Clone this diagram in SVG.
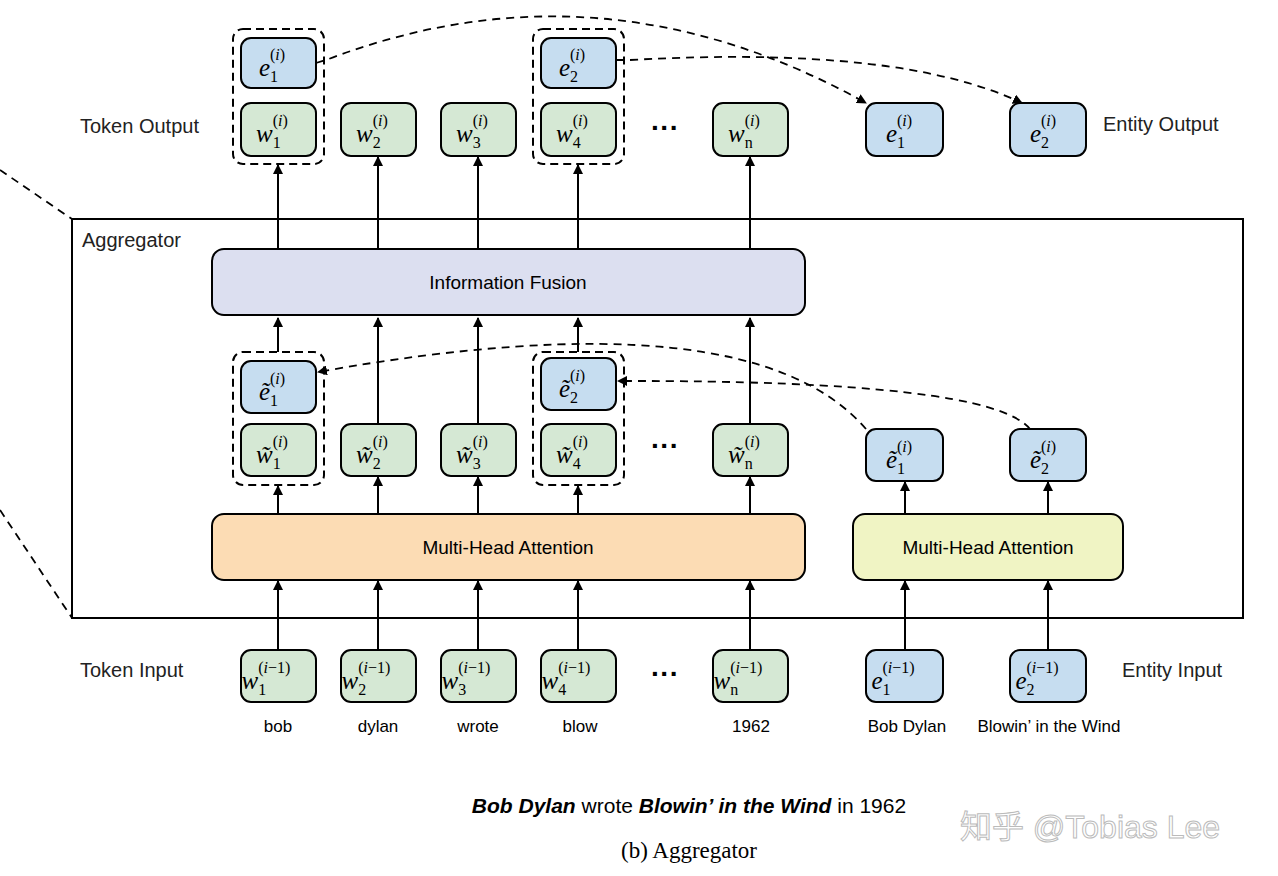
<svg xmlns="http://www.w3.org/2000/svg" width="1278" height="876" viewBox="0 0 1278 876">
<defs>
<marker id="ah" markerWidth="10" markerHeight="10" refX="9" refY="5" orient="auto" markerUnits="userSpaceOnUse"><path d="M0,0 L10,5 L0,10 z" fill="#000"/></marker>
<style>
.w{fill:#d5e8d4;stroke:#000;stroke-width:2}
.e{fill:#c6ddf0;stroke:#000;stroke-width:2}
.dbox{fill:none;stroke:#000;stroke-width:2;stroke-dasharray:8,5}
.ar{stroke:#000;stroke-width:2;fill:none;marker-end:url(#ah)}
.dl{stroke:#000;stroke-width:1.8;fill:none;stroke-dasharray:8,6}
.m{font-family:"Liberation Serif",serif;font-size:25px;font-style:italic;text-anchor:middle}
.s{font-style:normal;font-size:16px}
.lab{font-family:"Liberation Sans",Arial,sans-serif;font-size:20px;fill:#222}
.sm{font-family:"Liberation Sans",Arial,sans-serif;font-size:17px;text-anchor:middle}
.dots{font-family:"Liberation Sans",sans-serif;font-size:28px;font-weight:bold;text-anchor:middle}
</style>
</defs>
<rect width="1278" height="876" fill="#fff"/>
<g id="aggregator"><rect x="72" y="219" width="1171" height="399" fill="none" stroke="#000" stroke-width="2"/><text x="82" y="247" class="lab">Aggregator</text></g>
<g id="connectors">
<path class="dl" d="M0,170 L72,219"/><path class="dl" d="M0,510 L72,618"/>
<path class="ar" d="M278,249 V165"/><path class="ar" d="M378,249 V157"/><path class="ar" d="M478,249 V157"/><path class="ar" d="M578,249 V165"/><path class="ar" d="M750,249 V157"/>
<path class="ar" d="M278,352 V318"/><path class="ar" d="M378,424 V318"/><path class="ar" d="M478,424 V318"/><path class="ar" d="M578,352 V318"/><path class="ar" d="M750,424 V318"/>
<path class="ar" d="M278,514 V486"/><path class="ar" d="M378,514 V477"/><path class="ar" d="M478,514 V477"/><path class="ar" d="M578,514 V486"/><path class="ar" d="M750,514 V477"/>
<path class="ar" d="M905,514 V482"/><path class="ar" d="M1048,514 V482"/>
<path class="ar" d="M278,650 V581"/><path class="ar" d="M378,650 V581"/><path class="ar" d="M478,650 V581"/><path class="ar" d="M578,650 V581"/><path class="ar" d="M750,650 V581"/><path class="ar" d="M905,650 V581"/><path class="ar" d="M1048,650 V581"/>
<path class="dl" d="M316,63 L326,60 Q600,-45 866,103" marker-end="url(#ah)"/>
<path class="dl" d="M616,60 L630,60 Q900,45 1022,103" marker-end="url(#ah)"/>
<path class="dl" d="M866,429 Q750,295 318,372" marker-end="url(#ah)"/>
<path class="dl" d="M1030,429 Q990,380 618,381" marker-end="url(#ah)"/>
</g>
<g id="fusion"><rect x="212" y="249" width="593" height="66" rx="12" fill="#dcdff0" stroke="#000" stroke-width="2"/><text x="508" y="289" class="sm" style="font-size:19px">Information Fusion</text></g>
<g id="mha1"><rect x="212" y="514" width="593" height="66" rx="12" fill="#fcdcb4" stroke="#000" stroke-width="2"/><text x="508" y="554" class="sm" style="font-size:19px">Multi-Head Attention</text></g>
<g id="mha2"><rect x="853" y="514" width="270" height="66" rx="12" fill="#f0f4c4" stroke="#000" stroke-width="2"/><text x="988" y="554" class="sm" style="font-size:19px">Multi-Head Attention</text></g>
<text x="80" y="133" class="lab">Token Output</text>
<text x="1103" y="131" class="lab">Entity Output</text>
<text x="80" y="677" class="lab">Token Input</text>
<text x="1122" y="677" class="lab">Entity Input</text>
<g id="out-dash"><rect class="dbox" x="233" y="29" width="91" height="135" rx="10"/><rect class="dbox" x="533" y="29" width="91" height="135" rx="10"/></g>
<g id="e1out"><rect class="e" x="241" y="38" width="75" height="50" rx="10"/><text class="m" x="272" y="76">e<tspan class="s" dy="6">1</tspan><tspan class="s" dy="-22" dx="-8">(<tspan font-style="italic">i</tspan>)</tspan></text></g>
<g id="e2out"><rect class="e" x="541" y="38" width="75" height="50" rx="10"/><text class="m" x="572" y="76">e<tspan class="s" dy="6">2</tspan><tspan class="s" dy="-22" dx="-8">(<tspan font-style="italic">i</tspan>)</tspan></text></g>
<g id="w1out"><rect class="w" x="241" y="103" width="75" height="53" rx="10"/><text class="m" x="272" y="142">w<tspan class="s" dy="6">1</tspan><tspan class="s" dy="-22" dx="-8">(<tspan font-style="italic">i</tspan>)</tspan></text></g>
<g id="w2out"><rect class="w" x="341" y="103" width="75" height="53" rx="10"/><text class="m" x="372" y="142">w<tspan class="s" dy="6">2</tspan><tspan class="s" dy="-22" dx="-8">(<tspan font-style="italic">i</tspan>)</tspan></text></g>
<g id="w3out"><rect class="w" x="441" y="103" width="75" height="53" rx="10"/><text class="m" x="472" y="142">w<tspan class="s" dy="6">3</tspan><tspan class="s" dy="-22" dx="-8">(<tspan font-style="italic">i</tspan>)</tspan></text></g>
<g id="w4out"><rect class="w" x="541" y="103" width="75" height="53" rx="10"/><text class="m" x="572" y="142">w<tspan class="s" dy="6">4</tspan><tspan class="s" dy="-22" dx="-8">(<tspan font-style="italic">i</tspan>)</tspan></text></g>
<text class="dots" x="665" y="137">···</text>
<g id="wnout"><rect class="w" x="713" y="103" width="75" height="53" rx="10"/><text class="m" x="744" y="142">w<tspan class="s" dy="6" font-style="italic">n</tspan><tspan class="s" dy="-22" dx="-8">(<tspan font-style="italic">i</tspan>)</tspan></text></g>
<g id="e1o"><rect class="e" x="866" y="103" width="77" height="53" rx="10"/><text class="m" x="899" y="142">e<tspan class="s" dy="6">1</tspan><tspan class="s" dy="-22" dx="-8">(<tspan font-style="italic">i</tspan>)</tspan></text></g>
<g id="e2o"><rect class="e" x="1010" y="103" width="76" height="53" rx="10"/><text class="m" x="1043" y="142">e<tspan class="s" dy="6">2</tspan><tspan class="s" dy="-22" dx="-8">(<tspan font-style="italic">i</tspan>)</tspan></text></g>
<g id="mid-dash"><rect class="dbox" x="233" y="352" width="91" height="133" rx="10"/><rect class="dbox" x="533" y="352" width="91" height="133" rx="10"/></g>
<g id="et1"><rect class="e" x="241" y="361" width="75" height="52" rx="10"/><text class="m" x="272" y="400">ẽ<tspan class="s" dy="6">1</tspan><tspan class="s" dy="-22" dx="-8">(<tspan font-style="italic">i</tspan>)</tspan></text></g>
<g id="et2"><rect class="e" x="541" y="358" width="75" height="52" rx="10"/><text class="m" x="572" y="397">ẽ<tspan class="s" dy="6">2</tspan><tspan class="s" dy="-22" dx="-8">(<tspan font-style="italic">i</tspan>)</tspan></text></g>
<g id="wt1"><rect class="w" x="241" y="424" width="75" height="52" rx="10"/><text class="m" x="272" y="463">w̃<tspan class="s" dy="6">1</tspan><tspan class="s" dy="-22" dx="-8">(<tspan font-style="italic">i</tspan>)</tspan></text></g>
<g id="wt2"><rect class="w" x="341" y="424" width="75" height="52" rx="10"/><text class="m" x="372" y="463">w̃<tspan class="s" dy="6">2</tspan><tspan class="s" dy="-22" dx="-8">(<tspan font-style="italic">i</tspan>)</tspan></text></g>
<g id="wt3"><rect class="w" x="441" y="424" width="75" height="52" rx="10"/><text class="m" x="472" y="463">w̃<tspan class="s" dy="6">3</tspan><tspan class="s" dy="-22" dx="-8">(<tspan font-style="italic">i</tspan>)</tspan></text></g>
<g id="wt4"><rect class="w" x="541" y="424" width="75" height="52" rx="10"/><text class="m" x="572" y="463">w̃<tspan class="s" dy="6">4</tspan><tspan class="s" dy="-22" dx="-8">(<tspan font-style="italic">i</tspan>)</tspan></text></g>
<text class="dots" x="665" y="455">···</text>
<g id="wtn"><rect class="w" x="713" y="424" width="75" height="52" rx="10"/><text class="m" x="744" y="463">w̃<tspan class="s" dy="6" font-style="italic">n</tspan><tspan class="s" dy="-22" dx="-8">(<tspan font-style="italic">i</tspan>)</tspan></text></g>
<g id="ete1"><rect class="e" x="866" y="429" width="77" height="52" rx="10"/><text class="m" x="899" y="468">ẽ<tspan class="s" dy="6">1</tspan><tspan class="s" dy="-22" dx="-8">(<tspan font-style="italic">i</tspan>)</tspan></text></g>
<g id="ete2"><rect class="e" x="1010" y="429" width="76" height="52" rx="10"/><text class="m" x="1043" y="468">ẽ<tspan class="s" dy="6">2</tspan><tspan class="s" dy="-22" dx="-8">(<tspan font-style="italic">i</tspan>)</tspan></text></g>
<g id="wi1"><rect class="w" x="241" y="650" width="75" height="52" rx="10"/><text class="m" x="266" y="689">w<tspan class="s" dy="6">1</tspan><tspan class="s" dy="-22" dx="-8">(<tspan font-style="italic">i</tspan>−1)</tspan></text></g>
<g id="wi2"><rect class="w" x="341" y="650" width="75" height="52" rx="10"/><text class="m" x="366" y="689">w<tspan class="s" dy="6">2</tspan><tspan class="s" dy="-22" dx="-8">(<tspan font-style="italic">i</tspan>−1)</tspan></text></g>
<g id="wi3"><rect class="w" x="441" y="650" width="75" height="52" rx="10"/><text class="m" x="466" y="689">w<tspan class="s" dy="6">3</tspan><tspan class="s" dy="-22" dx="-8">(<tspan font-style="italic">i</tspan>−1)</tspan></text></g>
<g id="wi4"><rect class="w" x="541" y="650" width="75" height="52" rx="10"/><text class="m" x="566" y="689">w<tspan class="s" dy="6">4</tspan><tspan class="s" dy="-22" dx="-8">(<tspan font-style="italic">i</tspan>−1)</tspan></text></g>
<text class="dots" x="665" y="683">···</text>
<g id="win"><rect class="w" x="713" y="650" width="75" height="52" rx="10"/><text class="m" x="738" y="689">w<tspan class="s" dy="6" font-style="italic">n</tspan><tspan class="s" dy="-22" dx="-8">(<tspan font-style="italic">i</tspan>−1)</tspan></text></g>
<g id="ei1"><rect class="e" x="866" y="650" width="77" height="52" rx="10"/><text class="m" x="893" y="689">e<tspan class="s" dy="6">1</tspan><tspan class="s" dy="-22" dx="-8">(<tspan font-style="italic">i</tspan>−1)</tspan></text></g>
<g id="ei2"><rect class="e" x="1010" y="650" width="76" height="52" rx="10"/><text class="m" x="1037" y="689">e<tspan class="s" dy="6">2</tspan><tspan class="s" dy="-22" dx="-8">(<tspan font-style="italic">i</tspan>−1)</tspan></text></g>
<text class="sm" x="278" y="732">bob</text>
<text class="sm" x="378" y="732">dylan</text>
<text class="sm" x="478" y="732">wrote</text>
<text class="sm" x="580" y="732">blow</text>
<text class="sm" x="751" y="732">1962</text>
<text class="sm" x="907" y="732">Bob Dylan</text>
<text class="sm" x="1049" y="732">Blowin’ in the Wind</text>
<text x="689" y="813" class="sm" style="font-size:21px"><tspan font-weight="bold" font-style="italic">Bob Dylan</tspan> wrote <tspan font-weight="bold" font-style="italic">Blowin’ in the Wind</tspan> in 1962</text>
<text x="689" y="858" text-anchor="middle" style="font-family:'Liberation Serif',serif;font-size:23px">(b) Aggregator</text>
<text x="1090" y="838" text-anchor="middle" style="font-family:'Liberation Sans','Noto Sans CJK SC',sans-serif;font-size:32px;fill:#fff;stroke:#bbb;stroke-width:1">知乎 @Tobias Lee</text>
</svg>
